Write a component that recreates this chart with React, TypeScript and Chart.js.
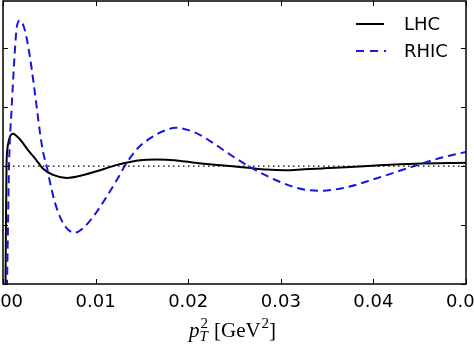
import React, { useEffect, useRef } from "react";
import { Chart, registerables } from "chart.js";

Chart.register(...registerables);

const xTicks = [0, 0.01, 0.02, 0.03, 0.04, 0.05];
const xTickLabels = ["0.00", "0.01", "0.02", "0.03", "0.04", "0.05"];
const yTicks = [-2, -1, 0, 1, 2];

const lhcX = [0.00025, 0.00032, 0.00038, 0.00048, 0.00057, 0.00075, 0.0011, 0.0014, 0.0018, 0.0022, 0.0027, 0.0033, 0.0038, 0.0043, 0.0054, 0.0069, 0.0087, 0.0105, 0.0123, 0.0137, 0.0148, 0.0166, 0.0185, 0.0205, 0.0223, 0.0245, 0.0265, 0.0285, 0.0305, 0.0325, 0.0345, 0.037, 0.0403, 0.0445, 0.05];
const lhcY = [-2.5, -1.0, 0.0, 0.3, 0.39, 0.5, 0.55, 0.52, 0.46, 0.38, 0.27, 0.16, 0.06, -0.04, -0.15, -0.2, -0.15, -0.07, 0.02, 0.07, 0.1, 0.11, 0.1, 0.06, 0.03, 0.0, -0.03, -0.06, -0.07, -0.055, -0.04, -0.02, 0.01, 0.04, 0.055];

const rhicX = [0.00032, 0.00043, 0.00065, 0.00094, 0.0013, 0.00148, 0.00183, 0.00237, 0.00291, 0.00327, 0.00364, 0.004, 0.00435, 0.00471, 0.00507, 0.00561, 0.00633, 0.00704, 0.00777, 0.00866, 0.00974, 0.01119, 0.01227, 0.01334, 0.0146, 0.0156, 0.0166, 0.0176, 0.0186, 0.0200, 0.02125, 0.0227, 0.0241, 0.0265, 0.0295, 0.032, 0.0342, 0.0371, 0.0403, 0.0444, 0.0475, 0.05];
const rhicY = [-2.5, -2.0, 0.0, 1.0, 2.0, 2.35, 2.47, 2.3, 1.85, 1.45, 1.0, 0.56, 0.22, 0.0, -0.27, -0.62, -0.92, -1.08, -1.13, -1.05, -0.86, -0.52, -0.24, 0.05, 0.31, 0.44, 0.54, 0.61, 0.65, 0.61, 0.53, 0.39, 0.24, 0.0, -0.24, -0.38, -0.42, -0.36, -0.21, 0.0, 0.15, 0.24];

const zeroX = [0, 0.05];
const zeroY = [0, 0];

const seriesNames = ["LHC", "RHIC"];
const BLUE = "#1616dc";

const toPts = (xs: number[], ys: number[]) => xs.map((x, i) => ({ x, y: ys[i] }));

const framePlugin = {
  id: "frame",
  afterDatasetsDraw(chart: any) {
    const { ctx, chartArea: a, scales } = chart;
    const xs = scales.x;
    const ys = scales.y;
    ctx.save();
    ctx.strokeStyle = "#000";
    ctx.lineWidth = 1;
    const tl = 5;
    ctx.beginPath();
    xTicks.forEach((v) => {
      const px = Math.round(xs.getPixelForValue(v)) + 0.5;
      ctx.moveTo(px, a.bottom);
      ctx.lineTo(px, a.bottom - tl);
      ctx.moveTo(px, a.top);
      ctx.lineTo(px, a.top + tl);
    });
    yTicks.forEach((v) => {
      const py = Math.round(ys.getPixelForValue(v)) + 0.5;
      ctx.moveTo(a.left, py);
      ctx.lineTo(a.left + tl, py);
      ctx.moveTo(a.right, py);
      ctx.lineTo(a.right - tl, py);
    });
    ctx.stroke();
    ctx.lineWidth = 1.5;
    ctx.strokeRect(a.left, a.top, a.right - a.left, a.bottom - a.top);

    // x tick labels
    ctx.font = "18px 'DejaVu Sans'";
    ctx.fillStyle = "#000";
    ctx.textAlign = "center";
    ctx.textBaseline = "middle";
    xTicks.forEach((v, i) => {
      ctx.fillText(xTickLabels[i], xs.getPixelForValue(v), a.bottom + 18);
    });

    // legend
    ctx.textAlign = "left";
    const lx0 = 356, lx1 = 384, tx = 404;
    const rows = [25, 52];
    ctx.lineWidth = 2;
    ctx.strokeStyle = "#000";
    ctx.setLineDash([]);
    ctx.beginPath();
    ctx.moveTo(lx0, rows[0] - 1);
    ctx.lineTo(lx1, rows[0] - 1);
    ctx.stroke();
    ctx.strokeStyle = BLUE;
    ctx.setLineDash([8, 6]);
    ctx.beginPath();
    ctx.moveTo(lx0, rows[1] - 1);
    ctx.lineTo(lx1 + 2, rows[1] - 1);
    ctx.stroke();
    ctx.setLineDash([]);
    ctx.fillText(seriesNames[0], tx, rows[0]);
    ctx.fillText(seriesNames[1], tx, rows[1]);

    // axis title: p_T^2 [GeV^2]
    const base = 337;
    const big = "21px 'Liberation Serif'";
    const bigI = "italic 21px 'Liberation Serif'";
    const sm = "15px 'Liberation Serif'";
    const smI = "italic 15px 'Liberation Serif'";
    ctx.textBaseline = "alphabetic";
    ctx.font = bigI;
    const wp = ctx.measureText("p").width;
    ctx.font = sm;
    const w2 = ctx.measureText("2").width;
    ctx.font = smI;
    const wT = ctx.measureText("T").width;
    ctx.font = big;
    const wG = ctx.measureText(" [GeV").width;
    const wB = ctx.measureText("]").width;
    const total = wp + Math.max(w2, wT) + wG + w2 + 1 + wB;
    let x = 232 - total / 2;
    ctx.font = bigI;
    ctx.fillText("p", x, base);
    x += wp + 1;
    ctx.font = sm;
    ctx.fillText("2", x, base - 9);
    ctx.font = smI;
    ctx.fillText("T", x - 1, base + 4);
    x += Math.max(w2, wT);
    ctx.font = big;
    ctx.fillText(" [GeV", x, base);
    x += wG + 1;
    ctx.font = sm;
    ctx.fillText("2", x, base - 9);
    x += w2;
    ctx.font = big;
    ctx.fillText("]", x, base);
    ctx.restore();
  },
};

export default function App() {
  const ref = useRef<HTMLCanvasElement | null>(null);
  useEffect(() => {
    if (!ref.current) return;
    const chart = new Chart(ref.current, {
      type: "line",
      data: {
        datasets: [
          {
            label: "zero",
            data: toPts(zeroX, zeroY),
            borderColor: "#000",
            borderWidth: 1.3,
            borderDash: [1.5, 3.5],
            pointRadius: 0,
            fill: false,
          },
          {
            label: seriesNames[1],
            data: toPts(rhicX, rhicY),
            borderColor: BLUE,
            borderWidth: 2,
            borderDash: [8, 5],
            pointRadius: 0,
            cubicInterpolationMode: "monotone",
            fill: false,
          },
          {
            label: seriesNames[0],
            data: toPts(lhcX, lhcY),
            borderColor: "#000",
            borderWidth: 2,
            pointRadius: 0,
            cubicInterpolationMode: "monotone",
            fill: false,
          },
        ],
      },
      options: {
        animation: false,
        responsive: false,
        maintainAspectRatio: false,
        layout: { autoPadding: false, padding: { left: 3, right: 8, top: 1, bottom: 76 } },
        plugins: { legend: { display: false }, tooltip: { enabled: false } },
        scales: {
          x: { type: "linear", display: false, min: 0, max: 0.05 },
          y: { type: "linear", display: false, min: -2, max: 2.8 },
        },
      },
      plugins: [framePlugin],
    } as any);
    return () => chart.destroy();
  }, []);
  return (
    <div style={{ position: "fixed", left: 0, top: 0, width: 474, height: 360, background: "#fff" }}>
      <canvas ref={ref} width={474} height={360} style={{ display: "block", width: 474, height: 360 }} />
    </div>
  );
}
